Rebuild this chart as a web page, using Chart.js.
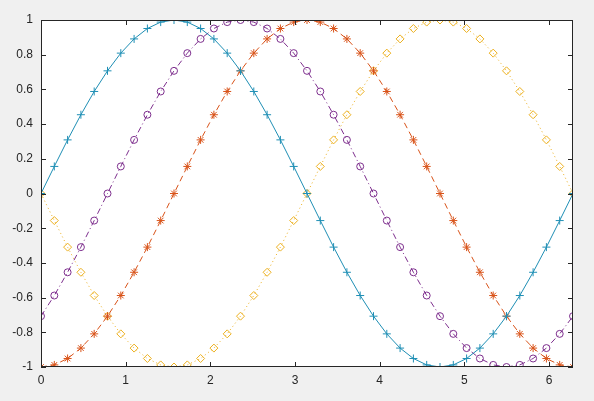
<!DOCTYPE html>
<html>
<head>
<meta charset="utf-8">
<script src="https://cdn.jsdelivr.net/npm/chart.js@4/dist/chart.umd.min.js"></script>
<style>
  html, body { margin: 0; padding: 0; background: #f0f0f0; }
  #wrap { width: 594px; height: 401px; }
</style>
</head>
<body>
<div id="wrap"><canvas id="c"></canvas></div>
<script>
// x = 0 : 2*pi/40 : 2*pi
const xStep = 0.15708;
const xTicks = [0, 1, 2, 3, 4, 5, 6];

const sinA = [0,.156,.309,.454,.588,.707,.809,.891,.951,.988,1,.988,.951,.891,.809,.707,.588,.454,.309,.156,0,
  -.156,-.309,-.454,-.588,-.707,-.809,-.891,-.951,-.988,-1,-.988,-.951,-.891,-.809,-.707,-.588,-.454,-.309,-.156,0];
const sinB = [-.707,-.588,-.454,-.309,-.156,
  0,.156,.309,.454,.588,.707,.809,.891,.951,.988,1,.988,.951,.891,.809,.707,.588,.454,.309,.156,0,
  -.156,-.309,-.454,-.588,-.707,-.809,-.891,-.951,-.988,-1,-.988,-.951,-.891,-.809,-.707];
const sinC = [-1,-.988,-.951,-.891,-.809,-.707,-.588,-.454,-.309,-.156,
  0,.156,.309,.454,.588,.707,.809,.891,.951,.988,1,.988,.951,.891,.809,.707,.588,.454,.309,.156,0,
  -.156,-.309,-.454,-.588,-.707,-.809,-.891,-.951,-.988,-1];
const sinD = [0,-.156,-.309,-.454,-.588,-.707,-.809,-.891,-.951,-.988,-1,-.988,-.951,-.891,-.809,-.707,-.588,-.454,-.309,-.156,0,
  .156,.309,.454,.588,.707,.809,.891,.951,.988,1,.988,.951,.891,.809,.707,.588,.454,.309,.156,0];

function pts(arr) {
  return arr.map((v, i) => ({ x: i * xStep, y: v }));
}

const frame = {
  id: 'frame',
  beforeDraw(chart) {
    const a = chart.chartArea, c = chart.ctx;
    c.save();
    c.fillStyle = '#ffffff';
    c.fillRect(a.left, a.top, a.right - a.left, a.bottom - a.top);
    c.restore();
  },
  afterDraw(chart) {
    const a = chart.chartArea, c = chart.ctx;
    c.save();
    c.strokeStyle = '#262626';
    c.lineWidth = 1;
    c.strokeRect(a.left + 0.5, a.top + 0.5, a.right - a.left - 1, a.bottom - a.top - 1);
    const xs = chart.scales.x, ys = chart.scales.y;
    c.beginPath();
    xTicks.forEach(t => {
      const px = Math.round(xs.getPixelForValue(t)) + 0.5;
      c.moveTo(px, a.bottom); c.lineTo(px, a.bottom - 5);
      c.moveTo(px, a.top); c.lineTo(px, a.top + 5);
    });
    ys.ticks.forEach(t => {
      const py = Math.round(ys.getPixelForValue(t.value)) + 0.5;
      c.moveTo(a.left, py); c.lineTo(a.left + 5, py);
      c.moveTo(a.right, py); c.lineTo(a.right - 5, py);
    });
    c.stroke();
    c.restore();
  }
};

new Chart(document.getElementById('c'), {
  type: 'line',
  data: {
    datasets: [
      { data: pts(sinA), borderColor: '#1f8fb5', borderWidth: 1, pointStyle: 'cross', pointRadius: 4,
        pointBorderColor: '#1f8fb5', pointBackgroundColor: 'transparent' },
      { data: pts(sinB), borderColor: '#7E2F8E', borderWidth: 1, borderDash: [6, 3, 1, 3], pointStyle: 'circle', pointRadius: 3.5,
        pointBorderColor: '#7E2F8E', pointBackgroundColor: 'transparent' },
      { data: pts(sinC), borderColor: '#D95319', borderWidth: 1, borderDash: [6, 4], pointStyle: 'star', pointRadius: 4,
        pointBorderColor: '#D95319', pointBackgroundColor: 'transparent' },
      { data: pts(sinD), borderColor: '#EDB120', borderWidth: 1, borderDash: [1, 3], pointStyle: 'rectRot', pointRadius: 4,
        pointBorderColor: '#EDB120', pointBackgroundColor: 'transparent' }
    ]
  },
  options: {
    responsive: true,
    maintainAspectRatio: false,
    animation: false,
    layout: { padding: { top: 20, right: 21, left: 0, bottom: 0 } },
    plugins: { legend: { display: false }, tooltip: { enabled: false } },
    elements: { line: { tension: 0 } },
    scales: {
      x: {
        type: 'linear', min: 0, max: 6.2832,
        afterBuildTicks(s) { s.ticks = xTicks.map(v => ({ value: v })); },
        afterFit(s) { s.height = 34; },
        grid: { display: false, drawTicks: false },
        border: { display: false },
        ticks: { color: '#262626', font: { family: 'Liberation Sans', size: 12 }, padding: 6 }
      },
      y: {
        min: -1, max: 1,
        afterFit(s) { s.width = 41; },
        grid: { display: false, drawTicks: false },
        border: { display: false },
        ticks: { stepSize: 0.2, color: '#262626', font: { family: 'Liberation Sans', size: 12 }, padding: 8,
          callback: v => String(Math.round(v * 10) / 10) }
      }
    }
  },
  plugins: [frame]
});
</script>
</body>
</html>
